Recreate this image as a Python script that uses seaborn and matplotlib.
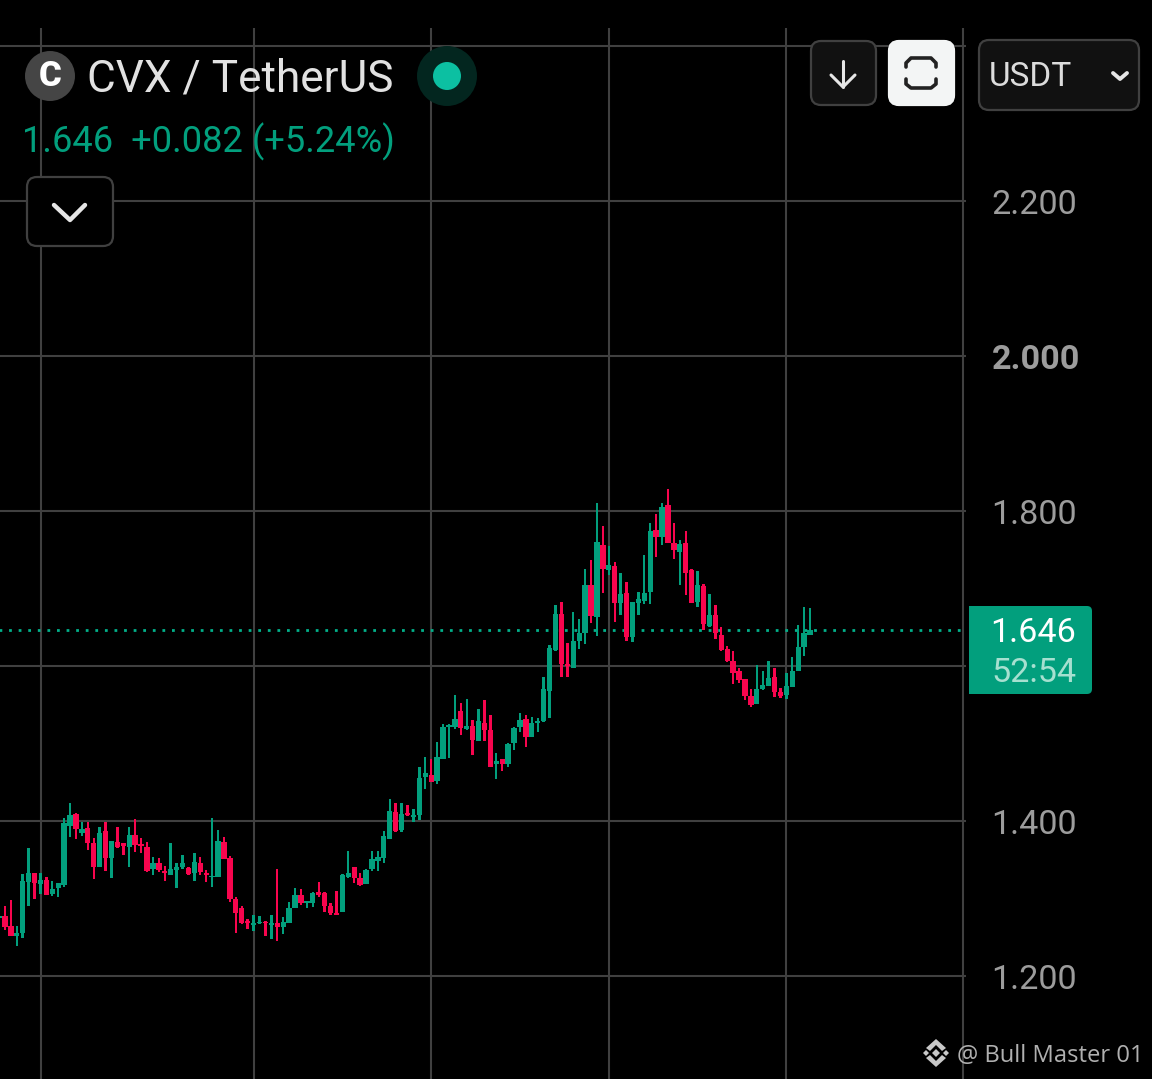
import matplotlib
matplotlib.use('Agg')
import matplotlib.pyplot as plt
from matplotlib.patches import FancyBboxPatch, Circle, Polygon, Rectangle
import pandas as pd
import seaborn as sns

# candles, oldest to newest
opens = [1.275, 1.277, 1.265, 1.252, 1.255, 1.321, 1.333, 1.319, 1.324, 1.306,
         1.314, 1.317, 1.394, 1.409, 1.385, 1.391, 1.372, 1.341, 1.387, 1.352,
         1.373, 1.372, 1.366, 1.382, 1.370, 1.366, 1.338, 1.346, 1.335, 1.330,
         1.337, 1.341, 1.339, 1.333, 1.346, 1.333, 1.328, 1.328, 1.373, 1.352,
         1.299, 1.288, 1.271, 1.266, 1.268, 1.270, 1.266, 1.268, 1.263, 1.268,
         1.288, 1.305, 1.294, 1.294, 1.308, 1.307, 1.290, 1.281, 1.283, 1.328,
         1.341, 1.326, 1.319, 1.338, 1.348, 1.352, 1.377, 1.412, 1.388, 1.410,
         1.405, 1.408, 1.457, 1.459, 1.452, 1.480, 1.521, 1.521, 1.542, 1.519,
         1.523, 1.503, 1.526, 1.517, 1.474, 1.480, 1.474, 1.501, 1.521, 1.532,
         1.508, 1.526, 1.529, 1.568, 1.621, 1.667, 1.603, 1.597, 1.632, 1.643,
         1.705, 1.663, 1.756, 1.724, 1.729, 1.681, 1.694, 1.637, 1.681, 1.684,
         1.695, 1.775, 1.766, 1.808, 1.759, 1.747, 1.759, 1.724, 1.683, 1.703,
         1.652, 1.666, 1.640, 1.622, 1.606, 1.594, 1.583, 1.561, 1.551, 1.570,
         1.574, 1.586, 1.566, 1.563, 1.573, 1.594, 1.625, 1.640]
highs = [1.290, 1.290, 1.298, 1.265, 1.332, 1.365, 1.333, 1.333, 1.328, 1.323,
         1.320, 1.404, 1.423, 1.410, 1.399, 1.399, 1.378, 1.392, 1.399, 1.374,
         1.392, 1.372, 1.392, 1.403, 1.378, 1.373, 1.354, 1.352, 1.342, 1.372,
         1.346, 1.356, 1.341, 1.359, 1.354, 1.337, 1.404, 1.388, 1.379, 1.355,
         1.302, 1.290, 1.274, 1.279, 1.277, 1.271, 1.279, 1.338, 1.276, 1.295,
         1.314, 1.312, 1.297, 1.308, 1.321, 1.308, 1.294, 1.310, 1.332, 1.361,
         1.341, 1.333, 1.338, 1.361, 1.361, 1.387, 1.428, 1.423, 1.423, 1.421,
         1.415, 1.470, 1.483, 1.480, 1.502, 1.525, 1.525, 1.563, 1.552, 1.557,
         1.530, 1.545, 1.556, 1.537, 1.488, 1.480, 1.501, 1.521, 1.539, 1.537,
         1.534, 1.533, 1.586, 1.627, 1.679, 1.683, 1.630, 1.670, 1.661, 1.725,
         1.737, 1.810, 1.781, 1.755, 1.734, 1.720, 1.708, 1.683, 1.695, 1.743,
         1.785, 1.796, 1.810, 1.828, 1.785, 1.763, 1.774, 1.725, 1.723, 1.706,
         1.693, 1.679, 1.650, 1.626, 1.619, 1.597, 1.583, 1.570, 1.601, 1.594,
         1.606, 1.597, 1.572, 1.591, 1.612, 1.653, 1.676, 1.675]
lows = [1.248, 1.259, 1.252, 1.239, 1.249, 1.290, 1.299, 1.306, 1.305, 1.303,
        1.302, 1.315, 1.379, 1.377, 1.381, 1.363, 1.325, 1.341, 1.335, 1.326,
        1.365, 1.356, 1.341, 1.360, 1.359, 1.334, 1.330, 1.334, 1.323, 1.330,
        1.314, 1.338, 1.330, 1.323, 1.330, 1.321, 1.315, 1.328, 1.351, 1.295,
        1.255, 1.267, 1.261, 1.258, 1.267, 1.252, 1.248, 1.245, 1.254, 1.268,
        1.288, 1.292, 1.288, 1.289, 1.302, 1.283, 1.279, 1.279, 1.283, 1.326,
        1.320, 1.316, 1.319, 1.335, 1.335, 1.346, 1.377, 1.386, 1.386, 1.406,
        1.399, 1.401, 1.441, 1.450, 1.448, 1.480, 1.481, 1.519, 1.511, 1.517,
        1.485, 1.503, 1.503, 1.470, 1.454, 1.465, 1.470, 1.492, 1.515, 1.495,
        1.508, 1.515, 1.528, 1.533, 1.619, 1.586, 1.586, 1.597, 1.622, 1.628,
        1.655, 1.639, 1.694, 1.717, 1.657, 1.666, 1.632, 1.631, 1.666, 1.680,
        1.680, 1.741, 1.756, 1.759, 1.738, 1.705, 1.692, 1.681, 1.676, 1.646,
        1.650, 1.635, 1.619, 1.605, 1.577, 1.578, 1.556, 1.547, 1.551, 1.569,
        1.574, 1.560, 1.559, 1.557, 1.573, 1.594, 1.613, 1.640]
closes = [1.277, 1.263, 1.252, 1.255, 1.323, 1.333, 1.320, 1.324, 1.305, 1.312,
          1.320, 1.397, 1.408, 1.390, 1.390, 1.372, 1.341, 1.385, 1.352, 1.374,
          1.366, 1.368, 1.382, 1.369, 1.368, 1.335, 1.346, 1.337, 1.333, 1.338,
          1.341, 1.346, 1.332, 1.347, 1.334, 1.330, 1.329, 1.374, 1.351, 1.299,
          1.281, 1.268, 1.268, 1.268, 1.270, 1.268, 1.268, 1.263, 1.270, 1.288,
          1.305, 1.294, 1.297, 1.307, 1.305, 1.290, 1.281, 1.279, 1.330, 1.333,
          1.326, 1.317, 1.337, 1.351, 1.354, 1.381, 1.413, 1.387, 1.409, 1.408,
          1.408, 1.455, 1.462, 1.450, 1.483, 1.521, 1.524, 1.532, 1.520, 1.523,
          1.505, 1.529, 1.517, 1.470, 1.477, 1.474, 1.499, 1.520, 1.530, 1.508,
          1.526, 1.529, 1.570, 1.623, 1.667, 1.603, 1.600, 1.632, 1.643, 1.705,
          1.665, 1.760, 1.725, 1.730, 1.681, 1.693, 1.637, 1.683, 1.686, 1.694,
          1.774, 1.766, 1.805, 1.759, 1.750, 1.757, 1.720, 1.681, 1.705, 1.654,
          1.666, 1.643, 1.621, 1.606, 1.591, 1.582, 1.561, 1.550, 1.570, 1.575,
          1.585, 1.566, 1.561, 1.574, 1.594, 1.625, 1.643, 1.646]

price_ticks = [2.2, 2.0, 1.8, 1.4, 1.2]
price_labels = ['2.200', '2.000', '1.800', '1.400', '1.200']
h_grid = [2.4, 2.2, 2.0, 1.8, 1.6, 1.4, 1.2]
v_grid = [7.12, 43, 73, 103, 133, 162.84]
last_price = 1.646

UP = '#029f7d'
DOWN = '#f8054e'
GRID = '#404040'

sns.set_theme(style='dark', rc={'axes.facecolor': 'black', 'figure.facecolor': 'black'})
plt.rcParams['font.family'] = ['Roboto', 'DejaVu Sans']

df = pd.DataFrame({'n': range(len(opens)), 'open': opens, 'high': highs, 'low': lows, 'close': closes})
df['top'] = df[['open', 'close']].max(axis=1)
df['bottom'] = df[['open', 'close']].min(axis=1)

fig = plt.figure(figsize=(11.52, 10.79), dpi=100)
ax = fig.add_axes([0, 0, 1, 1])

# grid first so the candles sit on top
ax.hlines(h_grid, 0, 163.4, color=GRID, lw=1.5, zorder=0)
ax.vlines(v_grid, 1.0, 2.4235, color=GRID, lw=1.5, zorder=0)
ax.hlines(last_price, 0, 162.6, color='#02b08a', lw=2, linestyles=(0, (1.0, 2.45)), zorder=0)

for color, part in [(UP, df[df['close'] >= df['open']]), (DOWN, df[df['close'] < df['open']])]:
    sns.barplot(x=part['n'], y=part['high'] - part['low'], bottom=part['low'].values, native_scale=True,
                color=color, saturation=1, width=0.4, errorbar=None, linewidth=0, ax=ax)
    sns.barplot(x=part['n'], y=part['top'] - part['bottom'], bottom=part['bottom'].values, native_scale=True,
                color=color, saturation=1, width=0.9, errorbar=None, linewidth=0, ax=ax)

ax.set_xlim(0.169, 194.76)
ax.set_ylim(1.0671, 2.4594)
ax.set_xticks([])
ax.set_xlabel('')
ax.set_ylabel('')
ax.set_yticks(price_ticks)
ax.set_yticklabels(price_labels)
ax.yaxis.tick_right()
ax.tick_params(axis='y', length=0, pad=-115.5, labelsize=24.6, labelcolor='#9c9c9c')
for lab in ax.get_yticklabels():
    lab.set_horizontalalignment('left')
    if lab.get_text() == '2.000':
        lab.set_fontweight('bold')
for s in ax.spines.values():
    s.set_visible(False)

# overlay in screen pixels for the app widgets
ui = fig.add_axes([0, 0, 1, 1], facecolor='none')
ui.set_xlim(0, 1152)
ui.set_ylim(1079, 0)
ui.axis('off')


def box(x0, y0, x1, y1, fc, ec, r=10):
    ui.add_patch(FancyBboxPatch((x0 + r, y0 + r), x1 - x0 - 2 * r, y1 - y0 - 2 * r,
                                boxstyle=f'round,pad={r},rounding_size={r}', fc=fc, ec=ec, lw=1.6))


# header
ui.add_patch(Circle((50, 76), 25, fc='#454545', ec='none'))
ui.text(50, 76, 'C', color='white', fontsize=25, fontweight='black', ha='center', va='center')
ui.text(87, 74.5, 'CVX / TetherUS', color='#e2e2e2', fontsize=31.8, ha='left', va='center_baseline')
ui.add_patch(Circle((447, 76), 30, fc='#03261f', ec='none'))
ui.add_patch(Circle((447, 76), 14, fc='#0cc0a2', ec='none'))
ui.text(22.5, 137.5, '1.646  +0.082 (+5.24%)', color=UP, fontsize=26.1, ha='left', va='center_baseline')

box(27, 177, 113, 246, 'black', '#404040')
ui.plot([54, 70, 85], [205, 220, 205], color='#e6e6e6', lw=3.2)

# buttons top right
box(811, 41, 876, 105, '#111111', '#404040')
ui.plot([843, 843], [61, 87], color='#e6e6e6', lw=2.2)
ui.plot([831, 843, 855], [75, 87, 75], color='#e6e6e6', lw=2.2)
box(889, 41, 954, 105, '#f3f5f5', '#f3f5f5')
ui.plot([906, 906, 911, 931, 936, 936], [67, 63, 58, 58, 63, 67], color='#222222', lw=2.6)
ui.plot([906, 906, 911, 931, 936, 936], [79, 84, 88, 88, 84, 79], color='#222222', lw=2.6)
box(979, 40, 1139, 110, '#111111', '#404040')
ui.text(989, 73.5, 'USDT', color='#dcdcdc', fontsize=24, ha='left', va='center_baseline')
ui.plot([1113, 1120, 1127], [73, 79, 73], color='#e6e6e6', lw=2.8)

# last price tag, square on the left
box(969, 606, 1092, 694, UP, 'none', r=5)
ui.add_patch(Rectangle((969, 606), 20, 88, fc=UP, ec='none'))
ui.text(1076.5, 629.5, '1.646', color='white', fontsize=24.6, ha='right', va='center_baseline')
ui.text(1076.5, 669.5, '52:54', color='#a6e0d0', fontsize=24.6, ha='right', va='center_baseline')

# watermark
for pts in ([(936, 1039), (946, 1048), (942, 1051), (936, 1045), (930, 1051), (926, 1048)],
            [(936, 1067), (946, 1058), (942, 1055), (936, 1061), (930, 1055), (926, 1058)],
            [(936, 1049), (940, 1053), (936, 1057), (932, 1053)],
            [(926, 1050), (929, 1053), (926, 1056), (923, 1053)],
            [(946, 1050), (949, 1053), (946, 1056), (943, 1053)]):
    ui.add_patch(Polygon(pts, fc='#c8c8c8', ec='none'))
ui.text(957, 1053, '@ Bull Master 01', color='#b0b0b0', fontsize=17.1, family=['Open Sans', 'DejaVu Sans'],
        ha='left', va='center_baseline')

fig.savefig('out.png', dpi=100, facecolor='black')
